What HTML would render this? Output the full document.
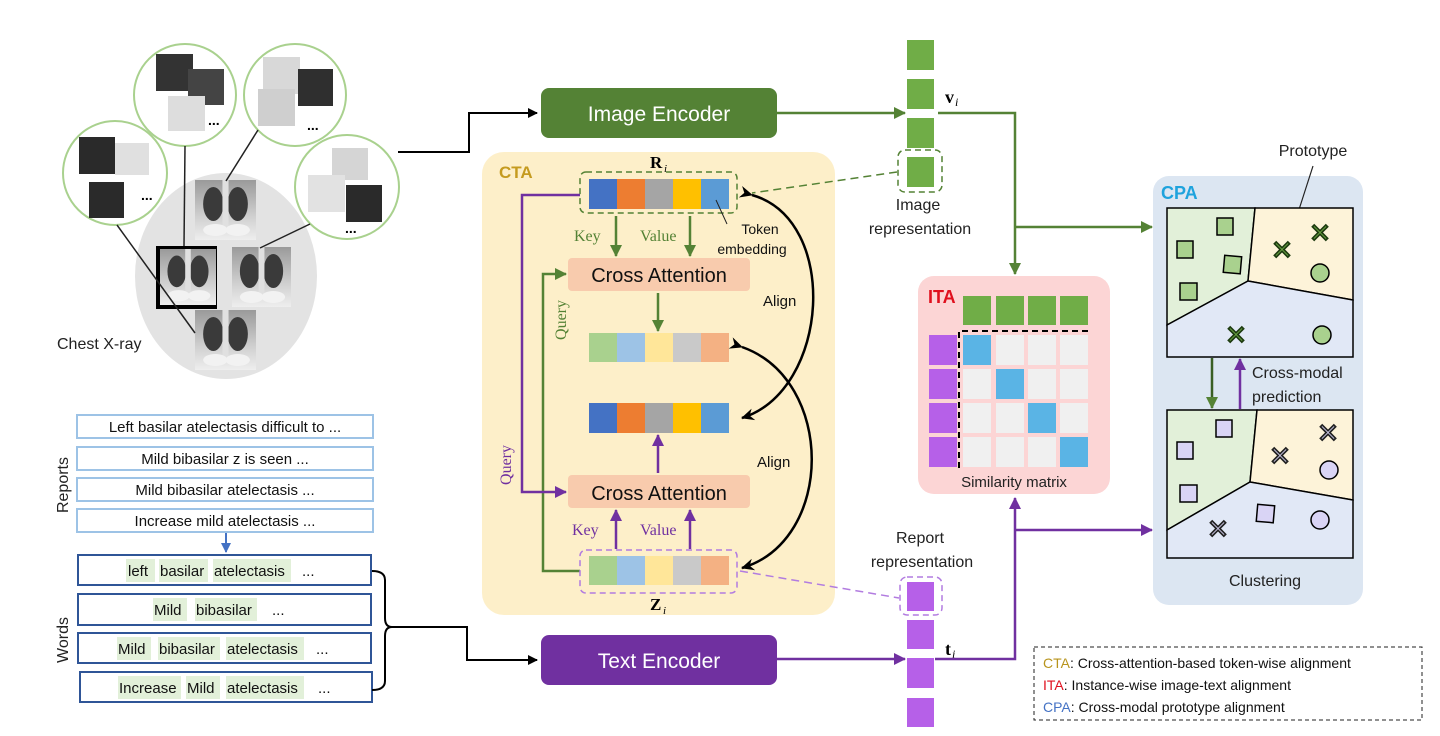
<!DOCTYPE html>
<html><head><meta charset="utf-8"><style>
html,body{margin:0;padding:0;background:#fff;}
svg{display:block;font-family:"Liberation Sans",sans-serif;}
</style></head><body>
<svg width="1440" height="736" viewBox="0 0 1440 736" xmlns="http://www.w3.org/2000/svg">
<defs>
<marker id="ak" markerWidth="10" markerHeight="10" refX="9" refY="5" orient="auto" markerUnits="userSpaceOnUse"><path d="M0,0 L10,5 L0,10 z" fill="#000"/></marker>
<marker id="ag" markerWidth="12" markerHeight="12" refX="11" refY="6" orient="auto" markerUnits="userSpaceOnUse"><path d="M0,0 L12,6 L0,12 z" fill="#548235"/></marker>
<marker id="ap" markerWidth="12" markerHeight="12" refX="11" refY="6" orient="auto" markerUnits="userSpaceOnUse"><path d="M0,0 L12,6 L0,12 z" fill="#7030a0"/></marker>
<marker id="ab" markerWidth="10" markerHeight="10" refX="9" refY="5" orient="auto" markerUnits="userSpaceOnUse"><path d="M0,0 L10,5 L0,10 z" fill="#4472c4"/></marker>
<marker id="abl" markerWidth="14" markerHeight="14" refX="12" refY="7" orient="auto" markerUnits="userSpaceOnUse"><path d="M0,1 L13,7 L0,13 L4,7 z" fill="#000"/></marker>
<linearGradient id="xr" x1="0" y1="0" x2="0" y2="1"><stop offset="0" stop-color="#9a9a9a"/><stop offset="0.6" stop-color="#cfcfcf"/><stop offset="1" stop-color="#eeeeee"/></linearGradient>
<symbol id="xray" viewBox="0 0 60 60" preserveAspectRatio="none"><rect width="60" height="60" fill="url(#xr)"/><ellipse cx="18" cy="24" rx="10" ry="17" fill="#3a3a3a"/><ellipse cx="42" cy="24" rx="10" ry="17" fill="#3a3a3a"/><rect x="27" y="0" width="6" height="50" fill="#e0e0e0"/><ellipse cx="20" cy="50" rx="12" ry="6" fill="#f2f2f2"/><ellipse cx="42" cy="50" rx="12" ry="6" fill="#f2f2f2"/></symbol>
</defs>

<!-- Chest x-ray cluster -->
<ellipse cx="226" cy="276" rx="91" ry="103" fill="#e3e3e3"/>
<g fill="none" stroke="#a9d18e" stroke-width="2">
<circle cx="185" cy="95" r="51" fill="#fff"/>
<circle cx="295" cy="95" r="51" fill="#fff"/>
<circle cx="115" cy="173" r="52" fill="#fff"/>
<circle cx="347" cy="187" r="52" fill="#fff"/>
</g>
<g>
<rect x="156" y="54" width="37" height="37" fill="#333"/><rect x="188" y="69" width="36" height="36" fill="#444"/><rect x="168" y="96" width="37" height="35" fill="#ddd"/><text x="208" y="125" font-size="14" font-weight="bold">...</text>
<rect x="263" y="57" width="37" height="37" fill="#d8d8d8"/><rect x="298" y="69" width="35" height="37" fill="#2f2f2f"/><rect x="258" y="89" width="37" height="37" fill="#cfcfcf"/><text x="307" y="130" font-size="14" font-weight="bold">...</text>
<rect x="79" y="137" width="36" height="37" fill="#2a2a2a"/><rect x="115" y="143" width="34" height="32" fill="#e0e0e0"/><rect x="89" y="182" width="35" height="36" fill="#2a2a2a"/><text x="141" y="200" font-size="14" font-weight="bold">...</text>
<rect x="332" y="148" width="36" height="32" fill="#d5d5d5"/><rect x="308" y="175" width="37" height="37" fill="#e2e2e2"/><rect x="346" y="185" width="36" height="37" fill="#2a2a2a"/><text x="345" y="233" font-size="14" font-weight="bold">...</text>
</g>
<rect x="156" y="246" width="61" height="63" fill="#000"/>
<use href="#xray" x="195" y="180" width="61" height="60"/>
<use href="#xray" x="160" y="249" width="56" height="56"/>
<use href="#xray" x="232" y="247" width="59" height="60"/>
<use href="#xray" x="195" y="310" width="61" height="60"/>
<g stroke="#222" stroke-width="1.5">
<line x1="185" y1="146" x2="184" y2="246"/>
<line x1="258" y1="130" x2="226" y2="181"/>
<line x1="310" y1="224" x2="260" y2="248"/>
<line x1="117" y1="225" x2="195" y2="333"/>
</g>
<text x="57" y="349" font-size="16" fill="#222">Chest X-ray</text>

<!-- Reports -->
<g fill="#fff" stroke="#9dc3e6" stroke-width="2">
<rect x="77" y="415" width="296" height="23"/><rect x="77" y="447" width="296" height="23"/><rect x="77" y="478" width="296" height="23"/><rect x="77" y="509" width="296" height="23"/>
</g>
<g font-size="15" text-anchor="middle" fill="#111">
<text x="225" y="432">Left basilar atelectasis difficult to ...</text>
<text x="225" y="464">Mild bibasilar z is seen ...</text>
<text x="225" y="495">Mild bibasilar atelectasis ...</text>
<text x="225" y="526">Increase mild atelectasis ...</text>
</g>
<text transform="translate(68,485) rotate(-90)" font-size="16" text-anchor="middle" fill="#222">Reports</text>
<line x1="226" y1="533" x2="226" y2="552" stroke="#4472c4" stroke-width="2" marker-end="url(#ab)"/>
<g fill="#fff" stroke="#2f5597" stroke-width="2">
<rect x="78" y="555" width="293" height="30"/><rect x="78" y="594" width="293" height="31"/><rect x="78" y="633" width="293" height="30"/><rect x="80" y="672" width="292" height="30"/>
</g>
<g fill="#e2f0d9">
<rect x="126" y="559" width="29" height="23"/><rect x="159" y="559" width="49" height="23"/><rect x="213" y="559" width="78" height="23"/>
<rect x="153" y="598" width="34" height="23"/><rect x="195" y="598" width="62" height="23"/>
<rect x="117" y="637" width="34" height="23"/><rect x="158" y="637" width="62" height="23"/><rect x="226" y="637" width="78" height="23"/>
<rect x="118" y="676" width="63" height="23"/><rect x="186" y="676" width="34" height="23"/><rect x="226" y="676" width="78" height="23"/>
</g>
<g font-size="15" fill="#111">
<text x="128" y="576">left</text><text x="160" y="576">basilar</text><text x="214" y="576">atelectasis</text><text x="302" y="576">...</text>
<text x="154" y="615">Mild</text><text x="196" y="615">bibasilar</text><text x="272" y="615">...</text>
<text x="118" y="654">Mild</text><text x="159" y="654">bibasilar</text><text x="227" y="654">atelectasis</text><text x="316" y="654">...</text>
<text x="119" y="693">Increase</text><text x="187" y="693">Mild</text><text x="227" y="693">atelectasis</text><text x="318" y="693">...</text>
</g>
<text transform="translate(68,640) rotate(-90)" font-size="16" text-anchor="middle" fill="#222">Words</text>
<path d="M372,571 Q385,571 385,580 L385,618 Q385,627 392,627 Q385,627 385,636 L385,681 Q385,690 372,690" fill="none" stroke="#000" stroke-width="2"/>
<path d="M392,627 L467,627 L467,660 L537,660" fill="none" stroke="#000" stroke-width="2" marker-end="url(#ak)"/>
<path d="M398,152 L469,152 L469,113 L537,113" fill="none" stroke="#000" stroke-width="2" marker-end="url(#ak)"/>

<!-- Encoders -->
<rect x="541" y="88" width="236" height="50" rx="8" fill="#548235"/>
<text x="659" y="121" font-size="21" fill="#fff" text-anchor="middle">Image Encoder</text>
<rect x="541" y="635" width="236" height="50" rx="8" fill="#7030a0"/>
<text x="659" y="668" font-size="21" fill="#fff" text-anchor="middle">Text Encoder</text>

<!-- CTA -->
<rect x="482" y="152" width="353" height="463" rx="22" fill="#fdefc9"/>
<text x="499" y="178" font-size="17" font-weight="bold" fill="#c59b1f">CTA</text>
<text x="650" y="168" font-size="17" font-weight="bold" font-family="Liberation Serif,serif">R</text><text x="664" y="172" font-size="11" font-style="italic" font-family="Liberation Serif,serif">i</text>
<rect x="580" y="172" width="157" height="41" rx="6" fill="none" stroke="#548235" stroke-width="1.5" stroke-dasharray="6,4"/>
<g>
<rect x="589" y="179" width="28" height="30" fill="#4472c4"/><rect x="617" y="179" width="28" height="30" fill="#ed7d31"/><rect x="645" y="179" width="28" height="30" fill="#a5a5a5"/><rect x="673" y="179" width="28" height="30" fill="#ffc000"/><rect x="701" y="179" width="28" height="30" fill="#5b9bd5"/>
<rect x="589" y="403" width="28" height="30" fill="#4472c4"/><rect x="617" y="403" width="28" height="30" fill="#ed7d31"/><rect x="645" y="403" width="28" height="30" fill="#a5a5a5"/><rect x="673" y="403" width="28" height="30" fill="#ffc000"/><rect x="701" y="403" width="28" height="30" fill="#5b9bd5"/>
<rect x="589" y="333" width="28" height="29" fill="#a9d18e"/><rect x="617" y="333" width="28" height="29" fill="#9dc3e6"/><rect x="645" y="333" width="28" height="29" fill="#ffe699"/><rect x="673" y="333" width="28" height="29" fill="#c9c9c9"/><rect x="701" y="333" width="28" height="29" fill="#f4b183"/>
<rect x="589" y="556" width="28" height="29" fill="#a9d18e"/><rect x="617" y="556" width="28" height="29" fill="#9dc3e6"/><rect x="645" y="556" width="28" height="29" fill="#ffe699"/><rect x="673" y="556" width="28" height="29" fill="#c9c9c9"/><rect x="701" y="556" width="28" height="29" fill="#f4b183"/>
</g>
<line x1="716" y1="200" x2="727" y2="224" stroke="#222" stroke-width="1"/>
<text x="760" y="234" font-size="14" text-anchor="middle" fill="#111">Token</text>
<text x="752" y="254" font-size="14" text-anchor="middle" fill="#111">embedding</text>
<g font-family="Liberation Serif,serif" font-size="16">
<text x="574" y="241" fill="#548235">Key</text><text x="640" y="241" fill="#548235">Value</text>
<text x="572" y="535" fill="#7030a0">Key</text><text x="640" y="535" fill="#7030a0">Value</text>
<text transform="translate(566,320) rotate(-90)" text-anchor="middle" fill="#548235">Query</text>
<text transform="translate(511,465) rotate(-90)" text-anchor="middle" fill="#7030a0">Query</text>
</g>
<rect x="568" y="258" width="182" height="33" rx="4" fill="#f8cbad"/>
<text x="659" y="282" font-size="20" text-anchor="middle" fill="#111">Cross Attention</text>
<rect x="568" y="475" width="182" height="33" rx="4" fill="#f8cbad"/>
<text x="659" y="500" font-size="20" text-anchor="middle" fill="#111">Cross Attention</text>
<g stroke="#548235" stroke-width="2.5" fill="none">
<line x1="616" y1="216" x2="616" y2="256" marker-end="url(#ag)"/>
<line x1="690" y1="216" x2="690" y2="256" marker-end="url(#ag)"/>
<line x1="658" y1="293" x2="658" y2="331" marker-end="url(#ag)"/>
<path d="M580,571 L543,571 L543,274 L566,274" marker-end="url(#ag)"/>
</g>
<g stroke="#7030a0" stroke-width="2.5" fill="none">
<line x1="616" y1="549" x2="616" y2="510" marker-end="url(#ap)"/>
<line x1="690" y1="549" x2="690" y2="510" marker-end="url(#ap)"/>
<line x1="658" y1="473" x2="658" y2="435" marker-end="url(#ap)"/>
<path d="M580,195 L522,195 L522,492 L566,492" marker-end="url(#ap)"/>
</g>
<rect x="580" y="550" width="157" height="43" rx="6" fill="none" stroke="#b27ce0" stroke-width="1.5" stroke-dasharray="6,4"/>
<text x="650" y="610" font-size="17" font-weight="bold" font-family="Liberation Serif,serif">Z</text><text x="663" y="614" font-size="11" font-style="italic" font-family="Liberation Serif,serif">i</text>
<g stroke="#000" stroke-width="2.5" fill="none">
<path d="M752,195 C840,220 830,390 742,418" marker-start="url(#abl)" marker-end="url(#abl)"/>
<path d="M742,347 C835,380 835,540 742,568" marker-start="url(#abl)" marker-end="url(#abl)"/>
</g>
<text x="763" y="306" font-size="15" fill="#111">Align</text>
<text x="757" y="467" font-size="15" fill="#111">Align</text>

<!-- representations -->
<g fill="#70ad47">
<rect x="907" y="40" width="27" height="30"/><rect x="907" y="79" width="27" height="30"/><rect x="907" y="118" width="27" height="30"/><rect x="907" y="157" width="27" height="30"/>
</g>
<rect x="898" y="150" width="44" height="42" rx="7" fill="none" stroke="#548235" stroke-width="1.5" stroke-dasharray="6,4"/>
<line x1="897" y1="172" x2="752" y2="193" stroke="#548235" stroke-width="1.5" stroke-dasharray="8,5"/>
<text x="945" y="103" font-size="18" font-weight="bold" font-family="Liberation Serif,serif">v</text><text x="955" y="106" font-size="12" font-style="italic" font-family="Liberation Serif,serif">i</text>
<text x="918" y="210" font-size="16" text-anchor="middle" fill="#222">Image</text>
<text x="920" y="234" font-size="16" text-anchor="middle" fill="#222">representation</text>
<line x1="777" y1="113" x2="905" y2="113" stroke="#548235" stroke-width="2.5" marker-end="url(#ag)"/>
<path d="M938,113 L1015,113 L1015,274" fill="none" stroke="#548235" stroke-width="2.5" marker-end="url(#ag)"/>
<line x1="1015" y1="227" x2="1152" y2="227" stroke="#548235" stroke-width="2.5" marker-end="url(#ag)"/>

<g fill="#b660e8">
<rect x="907" y="582" width="27" height="29"/><rect x="907" y="620" width="27" height="29"/><rect x="907" y="658" width="27" height="30"/><rect x="907" y="698" width="27" height="29"/>
</g>
<rect x="900" y="577" width="42" height="38" rx="7" fill="none" stroke="#b27ce0" stroke-width="1.5" stroke-dasharray="6,4"/>
<line x1="740" y1="571" x2="899" y2="598" stroke="#b27ce0" stroke-width="1.5" stroke-dasharray="8,5"/>
<text x="945" y="655" font-size="18" font-weight="bold" font-family="Liberation Serif,serif">t</text><text x="952" y="658" font-size="12" font-style="italic" font-family="Liberation Serif,serif">i</text>
<text x="920" y="543" font-size="16" text-anchor="middle" fill="#222">Report</text>
<text x="922" y="567" font-size="16" text-anchor="middle" fill="#222">representation</text>
<line x1="777" y1="659" x2="905" y2="659" stroke="#7030a0" stroke-width="2.5" marker-end="url(#ap)"/>
<path d="M935,659 L1015,659 L1015,498" fill="none" stroke="#7030a0" stroke-width="2.5" marker-end="url(#ap)"/>
<line x1="1015" y1="530" x2="1152" y2="530" stroke="#7030a0" stroke-width="2.5" marker-end="url(#ap)"/>

<!-- ITA -->
<rect x="918" y="276" width="192" height="218" rx="16" fill="#fcd5d5"/>
<text x="928" y="303" font-size="18" font-weight="bold" fill="#e0101e">ITA</text>
<g fill="#70ad47"><rect x="963" y="296" width="28" height="29"/><rect x="996" y="296" width="28" height="29"/><rect x="1028" y="296" width="28" height="29"/><rect x="1060" y="296" width="28" height="29"/></g>
<g fill="#b660e8"><rect x="929" y="335" width="28" height="30"/><rect x="929" y="369" width="28" height="30"/><rect x="929" y="403" width="28" height="30"/><rect x="929" y="437" width="28" height="30"/></g>
<g fill="#f0f0f0">
<rect x="996" y="335" width="28" height="30"/><rect x="1028" y="335" width="28" height="30"/><rect x="1060" y="335" width="28" height="30"/>
<rect x="963" y="369" width="28" height="30"/><rect x="1028" y="369" width="28" height="30"/><rect x="1060" y="369" width="28" height="30"/>
<rect x="963" y="403" width="28" height="30"/><rect x="996" y="403" width="28" height="30"/><rect x="1060" y="403" width="28" height="30"/>
<rect x="963" y="437" width="28" height="30"/><rect x="996" y="437" width="28" height="30"/><rect x="1028" y="437" width="28" height="30"/>
</g>
<g fill="#5ab4e5"><rect x="963" y="335" width="28" height="30"/><rect x="996" y="369" width="28" height="30"/><rect x="1028" y="403" width="28" height="30"/><rect x="1060" y="437" width="28" height="30"/></g>
<path d="M959,468 L959,331 L1088,331" fill="none" stroke="#000" stroke-width="2" stroke-dasharray="6,4"/>
<text x="1014" y="487" font-size="15" text-anchor="middle" fill="#222">Similarity matrix</text>

<!-- CPA -->
<rect x="1153" y="176" width="210" height="429" rx="16" fill="#dce6f2"/>
<text x="1161" y="199" font-size="18" font-weight="bold" fill="#1fa3dd">CPA</text>
<text x="1313" y="156" font-size="16" text-anchor="middle" fill="#222">Prototype</text>
<line x1="1313" y1="166" x2="1295" y2="222" stroke="#222" stroke-width="1.2"/>
<g stroke="#000" stroke-width="1.5">
<polygon points="1167,208 1255,208 1248,281 1167,325" fill="#e2f0d9"/>
<polygon points="1255,208 1353,208 1353,300 1248,281" fill="#fdf3d9"/>
<polygon points="1167,325 1248,281 1353,300 1353,357 1167,357" fill="#e1e8f6"/>
<polygon points="1167,410 1257,410 1250,482 1167,530" fill="#e2f0d9"/>
<polygon points="1257,410 1353,410 1353,500 1250,482" fill="#fdf3d9"/>
<polygon points="1167,530 1250,482 1353,500 1353,558 1167,558" fill="#e1e8f6"/>
</g>
<g fill="#a9d18e" stroke="#000" stroke-width="1.5">
<rect x="1217" y="218" width="16" height="17"/><rect x="1177" y="241" width="16" height="17"/><rect x="1224" y="256" width="17" height="17" transform="rotate(5 1232 264)"/><rect x="1180" y="283" width="17" height="17"/>
<circle cx="1320" cy="273" r="9"/><circle cx="1322" cy="335" r="9"/>
</g>
<g fill="#d9d4f5" stroke="#000" stroke-width="1.5">
<rect x="1216" y="420" width="16" height="17"/><rect x="1177" y="442" width="16" height="17"/><rect x="1180" y="485" width="17" height="17"/><rect x="1257" y="505" width="17" height="17" transform="rotate(5 1265 513)"/>
<circle cx="1329" cy="470" r="9"/><circle cx="1320" cy="520" r="9"/>
</g>
<g font-size="26" font-weight="bold" text-anchor="middle" fill="#70ad47" stroke="#1d3a10" stroke-width="0.8">
<text x="1282" y="259">✕</text><text x="1320" y="242">✕</text><text x="1236" y="344">✕</text>
</g>
<g font-size="26" font-weight="bold" text-anchor="middle" fill="#d9d4f5" stroke="#222" stroke-width="0.8">
<text x="1328" y="442">✕</text><text x="1280" y="465">✕</text><text x="1218" y="538">✕</text>
</g>
<line x1="1212" y1="358" x2="1212" y2="408" stroke="#3a5f24" stroke-width="2.5" marker-end="url(#ag)"/>
<line x1="1240" y1="409" x2="1240" y2="359" stroke="#7030a0" stroke-width="2.5" marker-end="url(#ap)"/>
<text x="1252" y="378" font-size="16" fill="#222">Cross-modal</text>
<text x="1252" y="402" font-size="16" fill="#222">prediction</text>
<text x="1265" y="586" font-size="16" text-anchor="middle" fill="#222">Clustering</text>

<!-- Legend -->
<rect x="1034" y="647" width="388" height="73" fill="#fff" stroke="#222" stroke-width="1" stroke-dasharray="4,3"/>
<g font-size="14" fill="#111">
<text x="1043" y="668"><tspan fill="#b8941d">CTA</tspan>: Cross-attention-based token-wise alignment</text>
<text x="1043" y="690"><tspan fill="#e0101e">ITA</tspan>: Instance-wise image-text alignment</text>
<text x="1043" y="712"><tspan fill="#4472c4">CPA</tspan>: Cross-modal prototype alignment</text>
</g>
</svg>
</body></html>
